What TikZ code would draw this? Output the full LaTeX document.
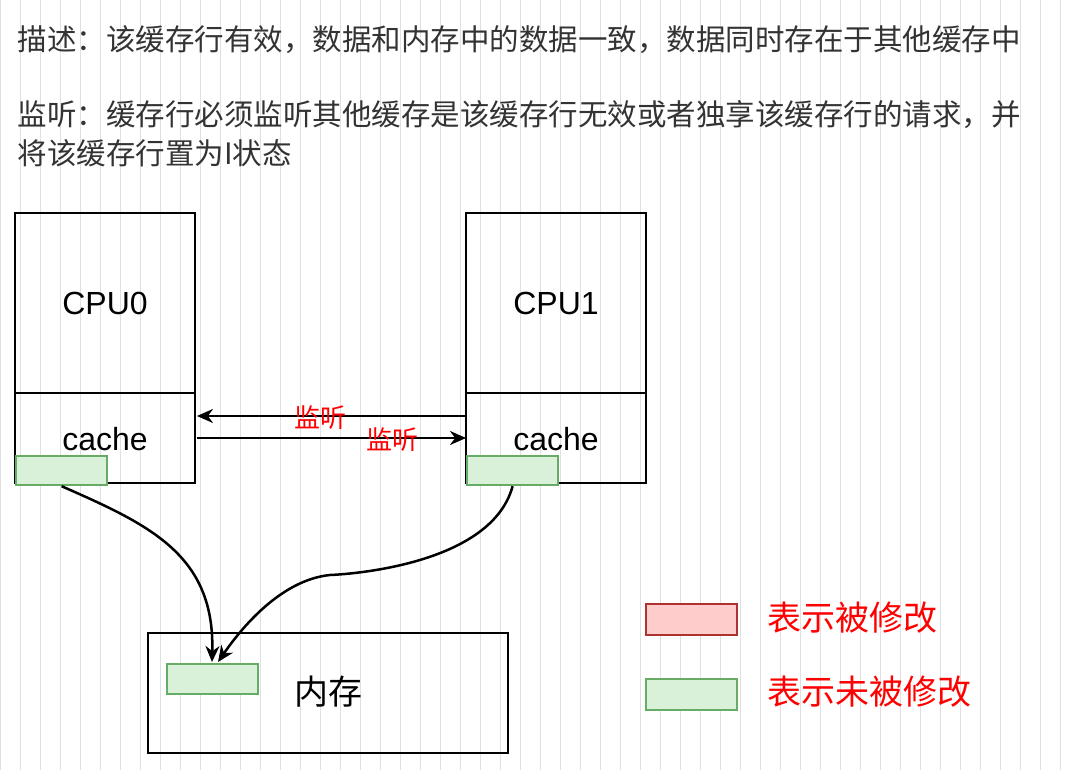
\documentclass[tikz,border=0pt]{standalone}
\usepackage{fontspec}
\setmainfont{Liberation Sans}
\newfontfamily\cjk{Noto Sans CJK SC}
\usetikzlibrary{positioning,arrows.meta}
\begin{document}
\begin{tikzpicture}[x=1pt,y=-1pt,
    box/.style={draw, line width=2.5pt, inner sep=0pt, font=\fontsize{32}{36}\selectfont},
    nochg/.style={draw=green!45!black!60, fill=green!60!black!15, line width=2.2pt},
    chg/.style={draw=red!60!black!80, fill=red!20, line width=2.2pt},
    arrow/.style={-{Stealth[length=16pt,width=14pt]}, line width=2.5pt},
    note/.style={anchor=west, font=\cjk\fontsize{29.5}{34}\selectfont, text=black!80},
    redtxt/.style={font=\cjk\fontsize{26}{30}\selectfont, text=red},
    legend/.style={anchor=west, font=\cjk\fontsize{34}{38}\selectfont, text=red}
]
\useasboundingbox (0,0) rectangle (1070,770);
\fill[white] (0,0) rectangle (1070,770);
\draw[black!12, line width=1pt, step=20] (0,0) grid (1070,770);

% Descriptions
\node[note] (desc) at (14,40) {描述：该缓存行有效，数据和内存中的数据一致，数据同时存在于其他缓存中};
\node[note] (snoop) at (14,115) {监听：缓存行必须监听其他缓存是该缓存行无效或者独享该缓存行的请求，并};
\node[note] (snoop2) at (14,153) {将该缓存行置为I状态};

% CPUs and caches
\draw[box] (15,213) rectangle node (cpu0) {CPU0} (195,393);
\draw[box] (15,393) rectangle node[yshift=-1pt] (c0txt) {cache} (195,483);
\draw[box] (466,213) rectangle node (cpu1) {CPU1} (646,393);
\draw[box] (466,393) rectangle node[yshift=-1pt] (c1txt) {cache} (646,483);
\coordinate (c0r1) at (197,416);
\coordinate (c0r2) at (197,438);
\coordinate (c1l1) at (466,416);
\coordinate (c1l2) at (466,438);
\node[nochg, minimum width=91pt, minimum height=29pt, anchor=north west] (g0) at (15,455) {};
\node[nochg, minimum width=91pt, minimum height=29pt, anchor=north west] (g1) at (466,455) {};

% Snooping
\draw[arrow] (c1l1) -- (c0r1);
\node[redtxt] (l1) at (320,418) {监听};
\draw[arrow] (c0r2) -- (c1l2);
\node[redtxt] (l2) at (392,440) {监听};

% Memory
\draw[box] (148,633) rectangle (508,753);
\node[font=\cjk\fontsize{34}{38}\selectfont] (mem) at (328,692) {内存};
\node[nochg, minimum width=91pt, minimum height=30pt, anchor=north west] (gm) at (166,663) {};

% Write-back paths
\draw[arrow] (g0.south) .. controls (150,525) and (215,555) .. (212,662);
\draw[arrow] (g1.south) .. controls (490,570) and (330,575) .. (330,575) .. controls (280,580) and (240,630) .. (218,662);

% Legend
\node[chg, minimum width=91pt, minimum height=31pt, anchor=north west] (lr) at (645,603) {};
\node[legend] (lrt) at (764,618) {表示被修改};
\node[nochg, minimum width=91pt, minimum height=31pt, anchor=north west] (lg) at (645,678) {};
\node[legend] (lgt) at (764,692) {表示未被修改};
\end{tikzpicture}
\end{document}
